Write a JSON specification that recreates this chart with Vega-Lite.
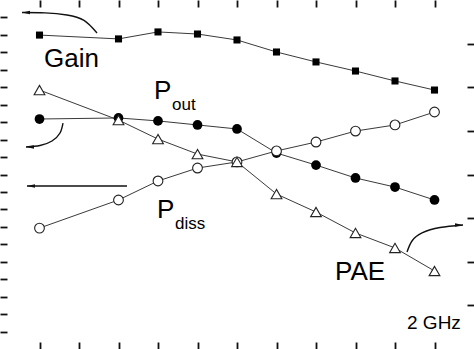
{
  "$schema": "https://vega.github.io/schema/vega-lite/v6.json",
  "width": 474,
  "height": 349,
  "autosize": {"type": "none"},
  "padding": 0,
  "background": "white",
  "config": {
    "view": {"stroke": null},
    "axis": {"labels": false, "domain": false, "grid": false, "title": null, "tickColor": "#111", "tickWidth": 1.8, "tickSize": -7}
  },
  "datasets": {
    "series": [
      {"s": "Gain", "x": 1, "y": 17.99}, {"s": "Gain", "x": 3, "y": 17.77}, {"s": "Gain", "x": 4, "y": 18.17}, {"s": "Gain", "x": 5, "y": 18.05}, {"s": "Gain", "x": 6, "y": 17.71},
      {"s": "Gain", "x": 7, "y": 17.02}, {"s": "Gain", "x": 8, "y": 16.45}, {"s": "Gain", "x": 9, "y": 15.93}, {"s": "Gain", "x": 10, "y": 15.36}, {"s": "Gain", "x": 11, "y": 14.84},
      {"s": "Pout", "x": 1, "y": 13.18}, {"s": "Pout", "x": 3, "y": 13.24}, {"s": "Pout", "x": 4, "y": 13.07}, {"s": "Pout", "x": 5, "y": 12.84}, {"s": "Pout", "x": 6, "y": 12.61},
      {"s": "Pout", "x": 7, "y": 11.23}, {"s": "Pout", "x": 8, "y": 10.54}, {"s": "Pout", "x": 9, "y": 9.8}, {"s": "Pout", "x": 10, "y": 9.28}, {"s": "Pout", "x": 11, "y": 8.54},
      {"s": "Pdiss", "x": 1, "y": 6.93}, {"s": "Pdiss", "x": 3, "y": 8.54}, {"s": "Pdiss", "x": 4, "y": 9.63}, {"s": "Pdiss", "x": 5, "y": 10.37}, {"s": "Pdiss", "x": 6, "y": 10.72},
      {"s": "Pdiss", "x": 7, "y": 11.35}, {"s": "Pdiss", "x": 8, "y": 11.86}, {"s": "Pdiss", "x": 9, "y": 12.49}, {"s": "Pdiss", "x": 10, "y": 12.84}, {"s": "Pdiss", "x": 11, "y": 13.58},
      {"s": "PAE", "x": 1, "y": 14.84}, {"s": "PAE", "x": 3, "y": 13.12}, {"s": "PAE", "x": 4, "y": 12.03}, {"s": "PAE", "x": 5, "y": 11.17}, {"s": "PAE", "x": 6, "y": 10.72},
      {"s": "PAE", "x": 7, "y": 8.88}, {"s": "PAE", "x": 8, "y": 7.85}, {"s": "PAE", "x": 9, "y": 6.65}, {"s": "PAE", "x": 10, "y": 5.79}, {"s": "PAE", "x": 11, "y": 4.47}
    ],
    "arrows": [
      {"a": "Gain", "i": 0, "x": 2.456, "y": 18.11}, {"a": "Gain", "i": 1, "x": 2.127, "y": 18.83}, {"a": "Gain", "i": 2, "x": 1.696, "y": 19.14}, {"a": "Gain", "i": 3, "x": 1.139, "y": 19.26}, {"a": "Gain", "i": 4, "x": 0.557, "y": 19.28},
      {"a": "Pout", "i": 0, "x": 1.595, "y": 12.95}, {"a": "Pout", "i": 1, "x": 1.519, "y": 12.38}, {"a": "Pout", "i": 2, "x": 1.316, "y": 11.92}, {"a": "Pout", "i": 3, "x": 1.013, "y": 11.66}, {"a": "Pout", "i": 4, "x": 0.658, "y": 11.58},
      {"a": "Pdiss", "i": 0, "x": 3.215, "y": 9.34}, {"a": "Pdiss", "i": 1, "x": 0.684, "y": 9.34},
      {"a": "PAE", "i": 0, "x": 10.304, "y": 5.56}, {"a": "PAE", "i": 1, "x": 10.43, "y": 6.19}, {"a": "PAE", "i": 2, "x": 10.684, "y": 6.65}, {"a": "PAE", "i": 3, "x": 11.139, "y": 6.96}, {"a": "PAE", "i": 4, "x": 11.722, "y": 7.11}
    ],
    "headsLeft": [
      {"x": 0.658, "y": 19.28}, {"x": 0.759, "y": 11.58}, {"x": 0.785, "y": 9.34}
    ],
    "headsRight": [
      {"x": 11.62, "y": 7.11}
    ],
    "bigLabels": [
      {"t": "Gain", "x": 1.114, "y": 16.16}, {"t": "P", "x": 3.899, "y": 14.33}, {"t": "P", "x": 3.975, "y": 7.51}, {"t": "PAE", "x": 8.481, "y": 3.95}
    ],
    "subLabels": [
      {"t": "out", "x": 4.354, "y": 13.7}, {"t": "diss", "x": 4.43, "y": 6.88}
    ],
    "note": [
      {"t": "2 GHz", "x": 10.304, "y": 1.146}
    ],
    "dummy": [{"x": 0, "y": 0}]
  },
  "layer": [
    {
      "encoding": {
        "x": {"field": "x", "type": "quantitative", "scale": {"domain": [0, 12], "nice": false, "zero": false}, "axis": {"orient": "bottom", "values": [1, 2, 3, 4, 5, 6, 7, 8, 9, 10, 11]}},
        "y": {"field": "y", "type": "quantitative", "scale": {"domain": [0, 20], "nice": false, "zero": false}, "axis": {"orient": "left", "values": [1, 2, 3, 4, 5, 6, 7, 8, 9, 10, 11, 12, 13, 14, 15, 16, 17, 18, 19]}}
      },
      "layer": [
        {"data": {"name": "series"}, "mark": {"type": "line", "stroke": "#3a3a3a", "strokeWidth": 1}, "encoding": {"detail": {"field": "s"}}},
        {"data": {"name": "arrows"}, "mark": {"type": "line", "interpolate": "natural", "stroke": "#111", "strokeWidth": 1.4}, "encoding": {"detail": {"field": "a"}, "order": {"field": "i"}}},
        {"data": {"name": "headsLeft"}, "mark": {"type": "point", "shape": "M -1 0 L 1 -0.45 L 1 0.45 Z", "filled": true, "color": "#111", "size": 64, "opacity": 1}},
        {"data": {"name": "headsRight"}, "mark": {"type": "point", "shape": "M 1 0 L -1 -0.45 L -1 0.45 Z", "filled": true, "color": "#111", "size": 64, "opacity": 1}},
        {"data": {"name": "series"}, "transform": [{"filter": "datum.s == 'Gain'"}], "mark": {"type": "point", "shape": "square", "filled": true, "color": "#000", "size": 50, "opacity": 1}},
        {"data": {"name": "series"}, "transform": [{"filter": "datum.s == 'Pout'"}], "mark": {"type": "point", "shape": "circle", "filled": true, "color": "#000", "size": 95, "opacity": 1}},
        {"data": {"name": "series"}, "transform": [{"filter": "datum.s == 'Pdiss'"}], "mark": {"type": "point", "shape": "circle", "filled": true, "fill": "white", "stroke": "#222", "strokeWidth": 1.1, "size": 95, "opacity": 1}},
        {"data": {"name": "series"}, "transform": [{"filter": "datum.s == 'PAE'"}], "mark": {"type": "point", "shape": "triangle-up", "filled": true, "fill": "white", "stroke": "#222", "strokeWidth": 1.1, "size": 115, "opacity": 1}},
        {"data": {"name": "bigLabels"}, "mark": {"type": "text", "align": "left", "baseline": "alphabetic", "font": "Liberation Sans", "fontSize": 26, "color": "#000"}, "encoding": {"text": {"field": "t"}}},
        {"data": {"name": "subLabels"}, "mark": {"type": "text", "align": "left", "baseline": "alphabetic", "font": "Liberation Sans", "fontSize": 17, "color": "#000"}, "encoding": {"text": {"field": "t"}}},
        {"data": {"name": "note"}, "mark": {"type": "text", "align": "left", "baseline": "alphabetic", "font": "Liberation Sans", "fontSize": 19, "color": "#000"}, "encoding": {"text": {"field": "t"}}}
      ]
    },
    {
      "data": {"name": "dummy"},
      "mark": {"type": "point", "opacity": 0},
      "encoding": {
        "x": {"field": "x", "type": "quantitative", "scale": {"domain": [0, 12], "nice": false, "zero": false}, "axis": {"orient": "top", "values": [1, 2, 3, 4, 5, 6, 7, 8, 9, 10, 11]}},
        "y": {"field": "y", "type": "quantitative", "scale": {"domain": [0, 8], "nice": false, "zero": false}, "axis": {"orient": "right", "values": [1, 2, 3, 4, 5, 6, 7]}}
      }
    }
  ],
  "resolve": {"scale": {"x": "independent", "y": "independent"}, "axis": {"x": "independent", "y": "independent"}}
}
